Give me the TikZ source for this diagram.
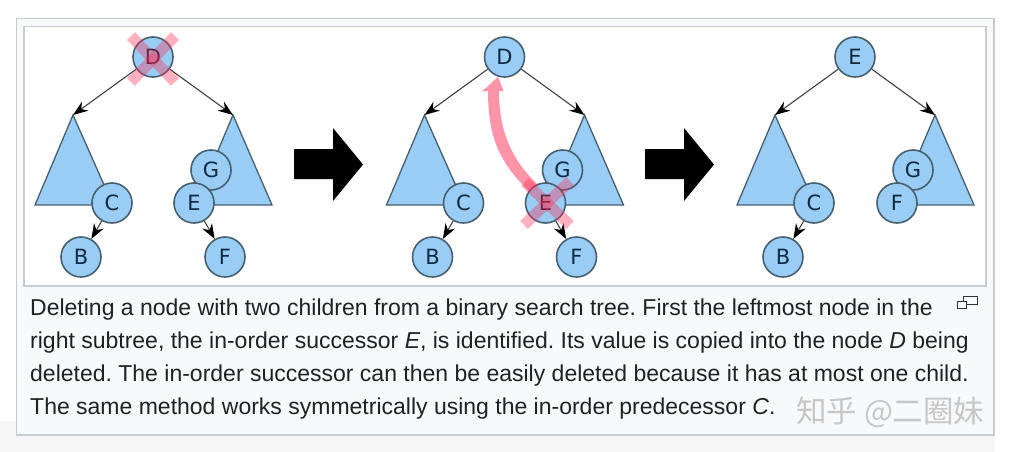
\documentclass[tikz,border=0pt]{standalone}
\usepackage{fontspec}
\setmainfont{Liberation Sans}
\newfontfamily\treefont{DejaVu Sans}
\newfontfamily\cjk{Noto Sans CJK SC}
\usetikzlibrary{arrows.meta}
\definecolor{boxfill}{HTML}{F8F9FA}
\definecolor{boxline}{HTML}{C8CCD1}
\definecolor{pagegray}{HTML}{F6F6F6}
\definecolor{treeblue}{HTML}{9ACDF5}
\definecolor{treeline}{HTML}{46606F}
\definecolor{treetext}{HTML}{0F2A40}
\definecolor{eraseRed}{HTML}{FF2850}
\definecolor{captext}{HTML}{202122}
\tikzset{
  treenode/.style={circle,draw=treeline,fill=treeblue,line width=1.6pt,minimum size=40pt,inner sep=0pt,
    text=treetext,font=\treefont\fontsize{21}{24}\selectfont},
  subtree/.style={draw=treeline,fill=treeblue,line width=1.3pt,line join=miter},
  link/.style={draw=black!75,line width=1.1pt,-{Stealth[length=15pt,width=11pt,color=black]}},
  erase/.style={draw=eraseRed,opacity=0.36,line width=11pt},
  bigarrow/.style={fill=black,draw=none},
  capline/.style={anchor=base west,inner sep=0pt,text=captext,font=\fontsize{23}{26}\selectfont},
}
\begin{document}
\begin{tikzpicture}[x=1pt,y=-1pt]
\useasboundingbox (0,0) rectangle (1009,452);
\frenchspacing
% page and frame
\fill[pagegray] (0,421) rectangle (995,452);
\draw[boxline,fill=boxfill,line width=1.6pt] (16.5,18.5) rectangle (994,435);
\draw[boxline,fill=white,line width=1.6pt] (24,26.5) rectangle (986,286);
% the three trees
\foreach \o/\t/\r in {0/a/D, 351.5/b/D, 702/c/E}{
  \coordinate (l\t) at (\o+73,115);
  \coordinate (r\t) at (\o+233,115);
  \draw[subtree] (l\t) -- (\o+35,205) -- (\o+113,205) -- cycle;
  \draw[subtree] (r\t) -- (\o+195,205) -- (\o+272,205) -- cycle;
  \node[treenode] (root\t) at (\o+153,57) {\r};
  \node[treenode] (C\t) at (\o+112,203) {C};
  \node[treenode] (B\t) at (\o+81,257) {B};
  \node[treenode] (G\t) at (\o+211,170) {G};
  \draw[link] (root\t) -- (l\t);
  \draw[link] (root\t) -- (r\t);
  \draw[link] (C\t) -- (B\t);
}
\node[treenode] (Ea) at (194,203) {E};
\node[treenode] (Fa) at (225,257) {F};
\draw[link] (Ea) -- (Fa);
\node[treenode] (Eb) at (545.5,203) {E};
\node[treenode] (Fb) at (576.5,257) {F};
\draw[link] (Eb) -- (Fb);
\node[treenode] (Fc) at (897,203) {F};
% arrows between the trees
\foreach \o in {0,351}{
  \fill[bigarrow] (\o+294,149) -- (\o+333,149) -- (\o+333,128) -- (\o+363,164.5)
    -- (\o+333,201) -- (\o+333,179) -- (\o+294,179) -- cycle;
}
% marks for deleting
\draw[erase] (131,36) -- (175,82);
\draw[erase] (175,36) -- (131,82);
\draw[erase] (524,225) -- (570,181);
\draw[erase] (570,225) -- (525,182);
\fill[eraseRed,opacity=0.5] (529,191) .. controls (500,163) and (488,138) .. (488,91)
  -- (482,91.5) -- (498,77) -- (503.5,91) -- (499,91)
  .. controls (499,132) and (512,160) .. (538,185) -- cycle;
% caption
\node[capline] (cap1) at (30,315) {Deleting a node with two children from a binary search tree. First the leftmost node in the};
\node[capline] (cap2) at (30,348) {right subtree, the in-order successor \textit{E}, is identified. Its value is copied into the node \textit{D} being};
\node[capline] (cap3) at (30,381) {deleted. The in-order successor can then be easily deleted because it has at most one child.};
\node[capline] (cap4) at (30,414) {The same method works symmetrically using the in-order predecessor \textit{C}.};
% enlarge icon
\draw[black!80,line width=1pt,fill=boxfill] (963,296) rectangle (977,304);
\draw[black!80,line width=1pt,fill=boxfill] (957,301) rectangle (966,308);
% watermark
\node[anchor=base west,inner sep=0pt,text=black!22,font=\cjk\fontsize{30.5}{32}\selectfont] (mark) at (796,422) {知乎 @二圈妹};
\end{tikzpicture}
\end{document}
